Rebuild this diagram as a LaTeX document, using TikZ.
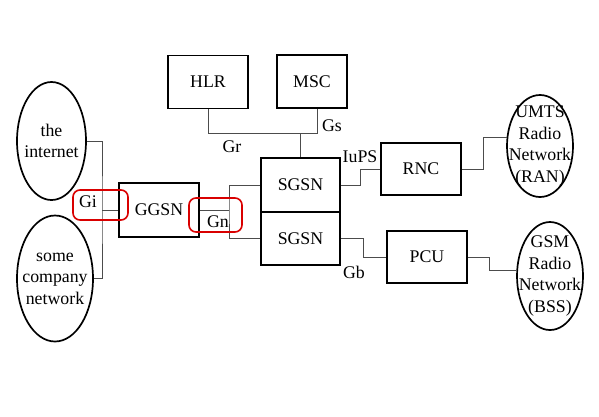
\documentclass[tikz,border=0pt]{standalone}
\usepackage{fontspec}
\setmainfont{Liberation Serif}
\usetikzlibrary{positioning,shapes.geometric}

\begin{document}
\begin{tikzpicture}[
  x=1pt, y=-1pt,
  font=\fontsize{17.8}{21.5}\selectfont,
  box/.style={rectangle, draw, line width=1.7pt, minimum width=80pt, minimum height=53pt, inner sep=0pt, align=center},
  cloud/.style={ellipse, draw, line width=1.7pt, inner sep=0pt},
  link/.style={draw=black!70, line width=0.9pt},
  ring/.style={rectangle, draw=red!85!black, line width=1.6pt, rounded corners=7pt},
  tag/.style={inner sep=0pt},
]
\useasboundingbox (0,0) rectangle (599,416);

% core boxes
\node[box] (hlr) at (208,82) {HLR};
\node[box, minimum width=70pt] (msc) at (312,81.5) {MSC};
\node[box, minimum height=54pt] (ggsn) at (159,210) {GGSN};
\node[box, minimum width=79pt, minimum height=54pt] (sgsnA) at (300.5,185) {SGSN};
\node[box, minimum width=79pt, below=-1.7pt of sgsnA] (sgsnB) {SGSN};
\node[box, minimum height=52pt] (rnc) at (421,169) {RNC};
\node[box, minimum height=52pt] (pcu) at (427,257) {PCU};

% networks
\node[cloud, minimum width=69pt, minimum height=118pt] (inet) at (51.5,141) {};
\node[align=center] (inetTxt) at (inet.center) {the\\internet};
\node[cloud, minimum width=76pt, minimum height=126pt] (corp) at (55,278.5) {};
\node[align=center] (corpTxt) at (corp.center) {some\\company\\network};
\node[cloud, minimum width=66pt, minimum height=102pt] (umts) at (540,146) {};
\node[align=center] (umtsTxt) at (umts.center) {UMTS\\Radio\\Network\\(RAN)};
\node[cloud, minimum width=66pt, minimum height=108pt] (gsm) at (550,276) {};
\node[align=center] (gsmTxt) at (gsm.center) {GSM\\Radio\\Network\\(BSS)};

% junctions
\coordinate (giBus) at (102,210);
\coordinate (gnBus) at (229,210);
\coordinate (gsJoin) at (317,133);

% connectors
\draw[link] (inet.east) -| (giBus) |- (corp.east);
\draw[link] (giBus) -- (ggsn.west);
\draw[link] (ggsn.east) -- (gnBus);
\draw[link] (sgsnA.west) -| (gnBus) |- (sgsnB.west);
\draw[link] (hlr.south) |- (gsJoin) -- (gsJoin |- msc.south);
\draw[link] (sgsnA.north) -- (sgsnA.north |- gsJoin);
\draw[link] (sgsnA.east) -- ++(20,0) |- (rnc.west);
\draw[link] (rnc.east) -- ++(22,0) |- (umts.166);
\draw[link] (sgsnB.east) -- ++(23,0) |- (pcu.west);
\draw[link] (pcu.east) -- ++(22,0) |- (gsm.170);

% interface labels
\node[tag] (gi) at (88,202) {Gi};
\node[tag] (gn) at (218,222) {Gn};
\node[tag] (gr) at (232,147) {Gr};
\node[tag] (gs) at (332,126) {Gs};
\node[tag] (iups) at (360,157) {IuPS};
\node[tag] (gb) at (354,272) {Gb};

% highlights
\node[ring, minimum width=55pt, minimum height=30pt] (giRing) at (100.5,205) {};
\node[ring, minimum width=53pt, minimum height=34pt] (gnRing) at (215.5,215) {};
\end{tikzpicture}
\end{document}
